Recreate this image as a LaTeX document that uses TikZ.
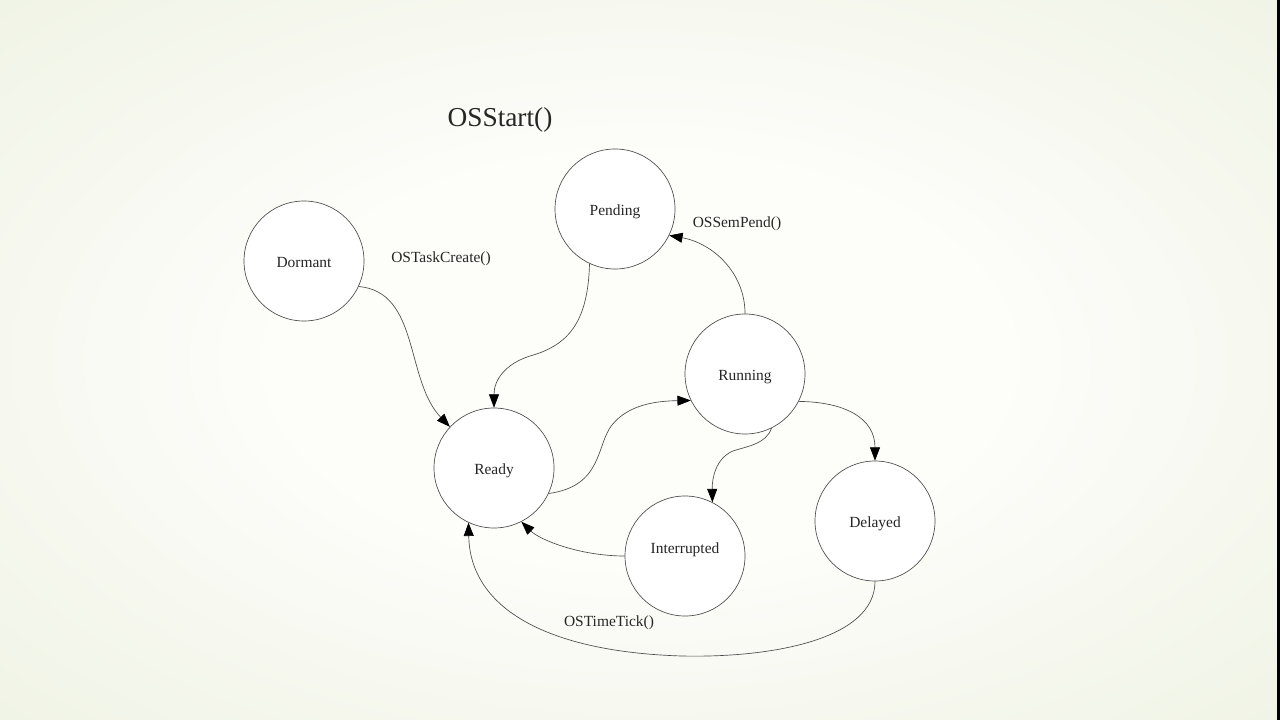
\documentclass[tikz,border=0pt]{standalone}
\usepackage{fontspec}
\setmainfont{Liberation Serif}
\usetikzlibrary{arrows.meta}
\definecolor{bgout}{RGB}{224,232,204}
\definecolor{bgin}{RGB}{253,253,250}
\pgfdeclareradialshading{slidebg}{\pgfpoint{0bp}{0bp}}{%
  color(0bp)=(bgin); color(14bp)=(bgin); color(40bp)=(bgout!55!bgin); color(72bp)=(bgout)}
\tikzset{
  state/.style={circle, draw=black!70, line width=0.5pt, fill=white,
    minimum size=90pt, inner sep=0pt, text=black!85,
    text height=9.2pt, text depth=0pt,
    font=\fontsize{11.6}{13}\selectfont},
  edge/.style={draw=black!70, line width=0.5pt,
    -{Triangle[length=10pt,width=7.5pt,color=black,fill=black]}},
  lbl/.style={text=black!85, font=\fontsize{11.6}{13}\selectfont, inner sep=0pt},
}
\begin{document}
\begin{tikzpicture}[x=0.75pt,y=-0.75pt]
\useasboundingbox (0,0) rectangle (1280,720);
\shade[shading=slidebg] (0,0) rectangle (1280,720);
\fill[black] (1276.5,0) rectangle (1280,720);

\node[lbl, font=\fontsize{20.5}{24}\selectfont] (title) at (500,120) {OSStart()};

\node[state] (dormant) at (304,261) {Dormant};
\node[state] (pending) at (615,209) {Pending};
\node[state] (running) at (745,374) {Running};
\node[state] (ready) at (494,468) {Ready};
\node[state, text depth=13.5pt] (interrupted) at (685,556) {Interrupted};
\node[state] (delayed) at (875,521) {Delayed};

\node[lbl] (lcreate) at (441,259) {OSTaskCreate()};
\node[lbl] (lsem) at (737,224) {OSSemPend()};
\node[lbl] (ltick) at (609,623) {OSTimeTick()};

\draw[edge] (dormant.-25) .. controls (420,292) and (405,380) .. (ready.137);
\draw[edge] (pending.-115) .. controls (588,320) and (570,345) .. (530,356)
  .. controls (505,364) and (494,380) .. (ready.north);
\draw[edge] (ready.-25) .. controls (603,486) and (596,445) .. (612,425)
  .. controls (628,405) and (655,401) .. (running.206);
\draw[edge] (running.north) .. controls (745,272) and (712,243) .. (pending.-26);
\draw[edge] (running.-27) .. controls (845,402) and (875,418) .. (delayed.north);
\draw[edge] (running.-64) .. controls (766,444) and (748,446) .. (733,451)
  .. controls (716,458) and (712,478) .. (interrupted.63);
\draw[edge] (interrupted.west) .. controls (580,556) and (540,540) .. (ready.-63);
\draw[edge] (delayed.south) .. controls (875,640) and (770,658) .. (682,656)
  .. controls (550,652) and (470,610) .. (ready.-115);
\end{tikzpicture}
\end{document}
